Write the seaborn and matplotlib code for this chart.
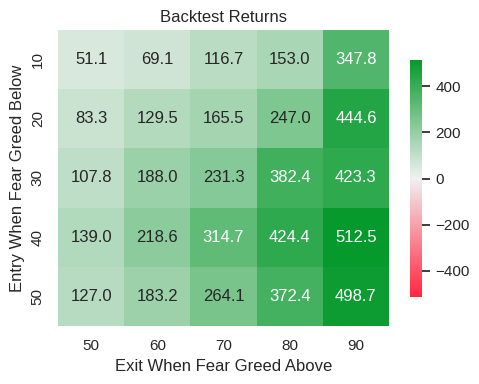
import matplotlib
matplotlib.use("Agg")
import matplotlib.pyplot as plt
from matplotlib.colors import LinearSegmentedColormap
import seaborn as sns
import numpy as np
import pandas as pd

entry_levels = [10, 20, 30, 40, 50]
exit_levels = [50, 60, 70, 80, 90]
returns_10 = [51.1, 69.1, 116.7, 153.0, 347.8]
returns_20 = [83.3, 129.5, 165.5, 247.0, 444.6]
returns_30 = [107.8, 188.0, 231.3, 382.4, 423.3]
returns_40 = [139.0, 218.6, 314.7, 424.4, 512.5]
returns_50 = [127.0, 183.2, 264.1, 372.4, 498.7]

sns.set_theme()
plt.rcParams['font.family'] = ['Liberation Sans', 'DejaVu Sans']

df = pd.DataFrame([returns_10, returns_20, returns_30, returns_40, returns_50],
                  index=entry_levels, columns=exit_levels)
lim = np.abs(df.values).max()

cmap = LinearSegmentedColormap.from_list(
    "red_green", ["#ff2640", "#f0f0f0", "#069a2c"])

fig = plt.figure(figsize=(4.79, 3.84), dpi=100)
ax = fig.add_axes([58 / 479, 1 - 326 / 384, 331 / 479, 296 / 384])
cax = fig.add_axes([410 / 479, 1 - 297 / 384, 12 / 479, 237 / 384])

sns.heatmap(df, annot=True, fmt=".1f", cmap=cmap, center=0,
            vmin=-lim, vmax=lim, ax=ax, cbar_ax=cax)
ax.set_title("Backtest Returns")
ax.set_xlabel("Exit When Fear Greed Above")
ax.set_ylabel("Entry When Fear Greed Below")

fig.savefig("out.png", dpi=100)
